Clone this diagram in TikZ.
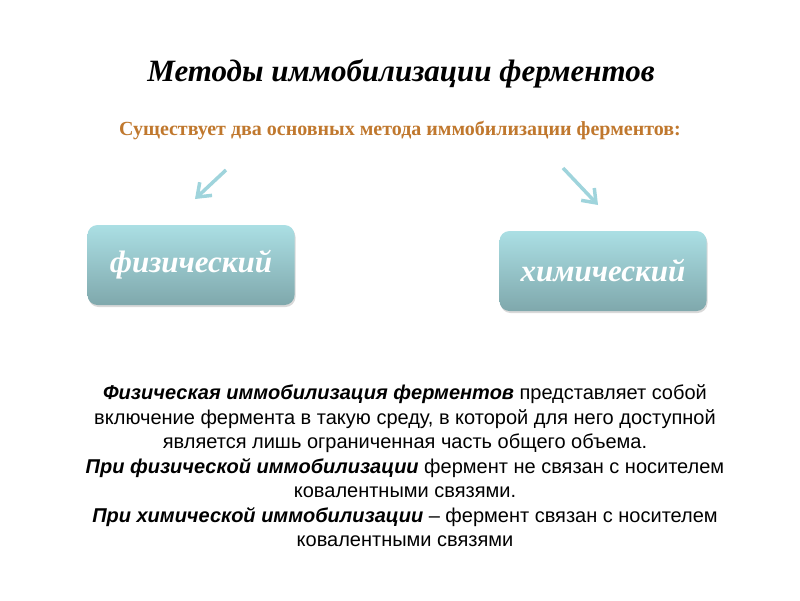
\documentclass[tikz,border=0pt]{standalone}
\usepackage{fontspec}
\setmainfont{Liberation Serif}
\newfontfamily\bodyf{Liberation Sans}
\usetikzlibrary{shadows,arrows.meta}
\definecolor{arr}{HTML}{9FD4DC}
\definecolor{sub}{HTML}{C0782E}
\definecolor{boxtop}{HTML}{ABDFE4}
\definecolor{boxbot}{HTML}{7FA8AC}
\tikzset{
 meth/.style={rounded corners=10pt, top color=boxtop, bottom color=boxbot, draw=none,
   drop shadow={shadow xshift=1pt, shadow yshift=-2pt, opacity=0.3},
   text=white, font=\bfseries\itshape\fontsize{31}{34}\selectfont, minimum width=207pt, minimum height=80pt},
 arrw/.style={draw=arr, line width=3.5pt, -{Straight Barb[length=12pt,width=18pt]}},
 body/.style={font=\bodyf\fontsize{20}{24.5}\selectfont, align=center}
}
\begin{document}
\begin{tikzpicture}[x=1pt,y=-1pt]
\useasboundingbox (0,0) rectangle (800,600);
\node[font=\bfseries\itshape\fontsize{31}{34}\selectfont] (title) at (401,74) {Методы иммобилизации ферментов};
\node[font=\bfseries\fontsize{20}{22}\selectfont, text=sub] (subt) at (400,130) {Существует два основных метода иммобилизации ферментов:};
\node[meth] (phys) at (191,265) {физический};
\node[meth] (chem) at (603,271) {химический};
\coordinate (a1) at (226,170); \coordinate (b1) at (195,199);
\coordinate (a2) at (563,168); \coordinate (b2) at (598,205);
\draw[arrw] (a1) -- (b1);
\draw[arrw] (a2) -- (b2);
\node[body] (txt) at (405,466) {\textbf{\textit{Физическая иммобилизация ферментов}} представляет собой\\
включение фермента в такую среду, в которой для него доступной\\
является лишь ограниченная часть общего объема.\\
\textbf{\textit{При физической иммобилизации}} фермент не связан с носителем\\
ковалентными связями.\\
\textbf{\textit{При химической иммобилизации}} – фермент связан с носителем\\
ковалентными связями};
\end{tikzpicture}
\end{document}
